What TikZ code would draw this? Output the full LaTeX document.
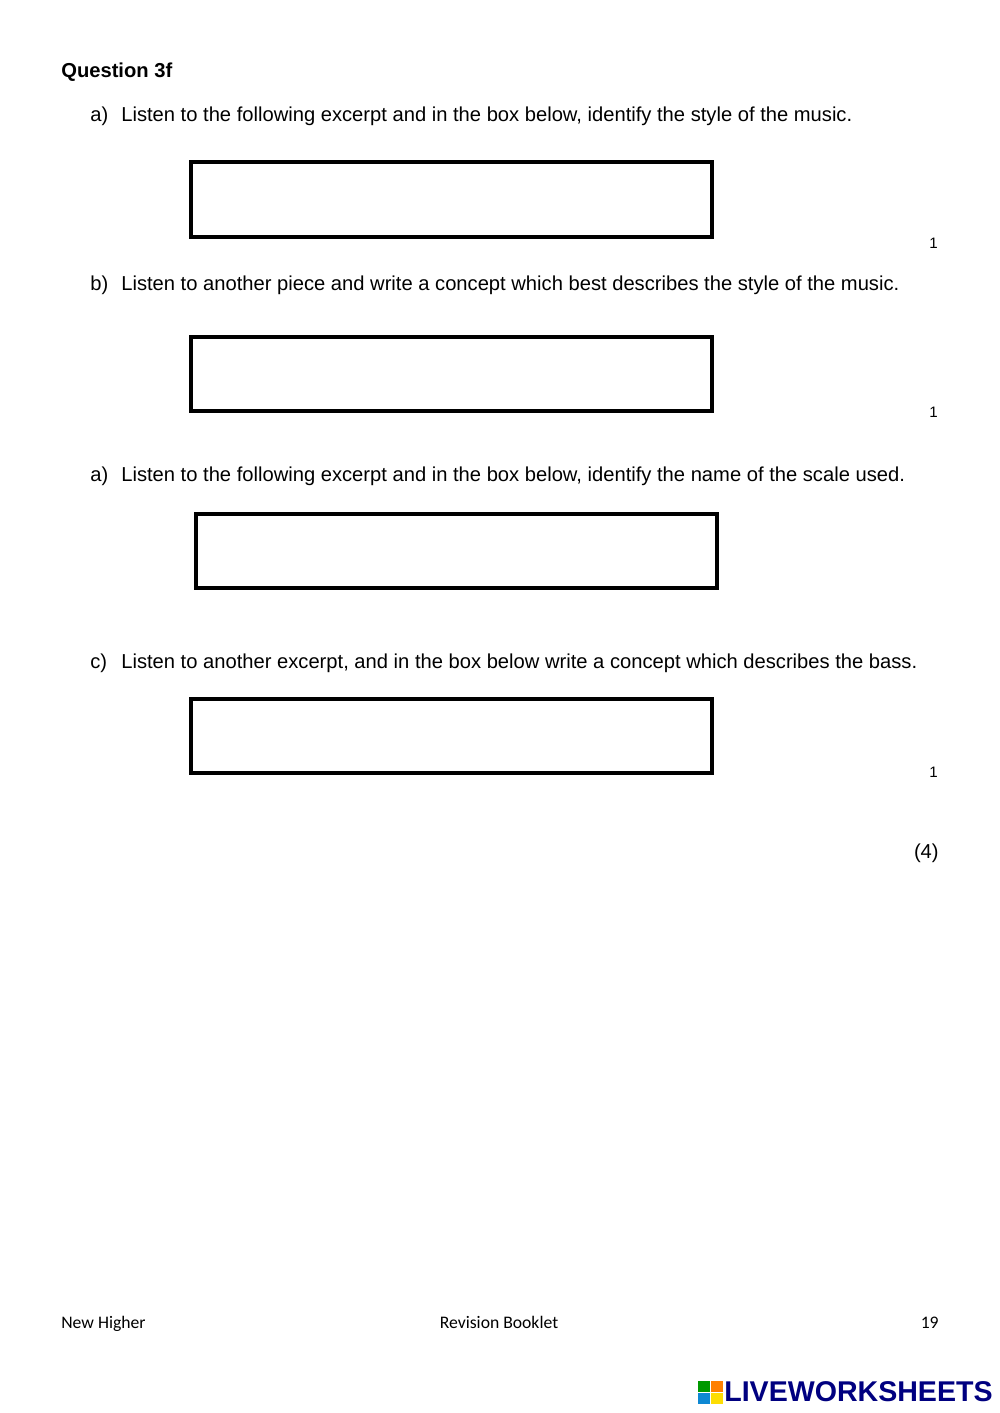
\documentclass[tikz,border=0pt]{standalone}
\usepackage{fontspec}
\setmainfont{Liberation Sans}
\newfontfamily\calib{Carlito}
\begin{document}
\begin{tikzpicture}[x=0.595pt,y=-0.595pt,
  box/.style={draw,line width=2pt},
  txt/.style={anchor=west,inner sep=0,font=\fontsize{12}{14}\selectfont},
  lab/.style={anchor=west,inner sep=0,font=\fontsize{12}{14}\selectfont},
  mk/.style={anchor=east,inner sep=0,font=\fontsize{9}{10}\selectfont},
  ft/.style={inner sep=0,font=\calib\fontsize{10.5}{12}\selectfont}]
\useasboundingbox[fill=white] (0,0) rectangle (1000,1413);
\node[txt,font=\bfseries\fontsize{12}{14}\selectfont] (q) at (61,72) {Question 3f};
\node[lab] (l1) at (90,116) {a)};
\node[txt] (t1) at (121,116) {Listen to the following excerpt and in the box below, identify the style of the music.};
\draw[box] (191,162) rectangle (712,237);
\node[mk] (m1) at (938,243) {1};
\node[lab] (l2) at (90,285) {b)};
\node[txt] (t2) at (121,285) {Listen to another piece and write a concept which best describes the style of the music.};
\draw[box] (191,337) rectangle (712,411);
\node[mk] (m2) at (938,412) {1};
\node[lab] (l3) at (90,476) {a)};
\node[txt] (t3) at (121,476) {Listen to the following excerpt and in the box below, identify the name of the scale used.};
\draw[box] (196,514) rectangle (717,588);
\node[lab] (l4) at (90,663) {c)};
\node[txt] (t4) at (121,663) {Listen to another excerpt, and in the box below write a concept which describes the bass.};
\draw[box] (191,699) rectangle (712,773);
\node[mk] (m3) at (938,772) {1};
\node[mk,font=\fontsize{12}{14}\selectfont] (tot) at (939,853) {(4)};
\node[ft,anchor=base west] (f1) at (61,1328) {New Higher};
\node[ft,anchor=base] (f2) at (499,1328) {Revision Booklet};
\node[ft,anchor=base east] (f3) at (939,1328) {19};
\fill[green!60!black] (698,1381) rectangle (710,1392);
\fill[orange] (711,1381) rectangle (723,1392);
\fill[cyan!70!blue] (698,1393) rectangle (710,1404);
\fill[yellow!80!orange] (711,1393) rectangle (723,1404);
\node[inner sep=0,anchor=west,font=\bfseries\fontsize{17}{19}\selectfont,text=blue!50!black] (logo) at (724,1392) {LIVEWORKSHEETS};
\end{tikzpicture}
\end{document}
